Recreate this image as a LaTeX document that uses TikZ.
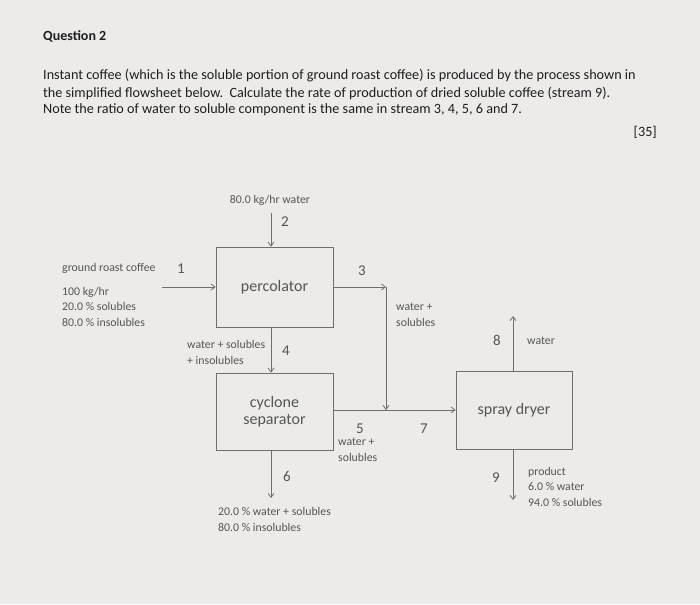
\documentclass[tikz,border=0pt]{standalone}
\usepackage{fontspec}
\setmainfont{Carlito}
\usetikzlibrary{arrows.meta}
\definecolor{bg}{HTML}{ECEBE9}
\definecolor{ink}{HTML}{1E1E1E}
\definecolor{dg}{HTML}{555555}
\definecolor{ln}{HTML}{6E6E6E}
\tikzset{
  unit/.style={draw=ln, line width=0.8pt, minimum width=117pt, minimum height=80pt, inner sep=0pt, text=dg, font=\fontsize{16}{17}\selectfont, align=center},
  arr/.style={draw=ln, line width=0.8pt, -{Straight Barb[length=4pt,width=6pt]}},
  lbl/.style={text=dg, font=\fontsize{11.8}{15.5}\selectfont, inner sep=0pt, align=left},
  num/.style={text=dg, font=\fontsize{15}{17}\selectfont, inner sep=0pt},
  para/.style={text=ink, font=\fontsize{14.2}{17}\selectfont, inner sep=0pt, align=left, anchor=base west}
}
\begin{document}
\begin{tikzpicture}[x=1pt,y=-1pt]
\fill[bg] (0,0) rectangle (700,604);
\useasboundingbox (0,0) rectangle (700,604);
% header text
\node[para, font=\bfseries\fontsize{14}{17}\selectfont] (q) at (43,41) {Question 2};
\node[para] (p) at (43,114) {Instant coffee (which is the soluble portion of ground roast coffee) is produced by the process shown in\\the simplified flowsheet below.\ \ Calculate the rate of production of dried soluble coffee (stream 9).\\Note the ratio of water to soluble component is the same in stream 3, 4, 5, 6 and 7.};
\node[para, anchor=base east] (mk) at (657,136) {[35]};
% units
\node[unit] (perc) at (274.5,287) {percolator};
\node[unit, minimum height=77pt] (cyc) at (274.5,411.5) {cyclone\\separator};
\node[unit, minimum width=116pt, minimum height=78pt] (spray) at (514,410) {spray dryer};
% coordinates
\coordinate (s1) at (162,287);
\coordinate (s2) at (271,213);
\coordinate (c3) at (386,287);
\coordinate (j) at (386,410);
\coordinate (e6) at (271,498);
\coordinate (e8) at (513,316);
\coordinate (e9) at (513,500);
% streams
\draw[arr] (s1) -- (perc.west);
\draw[arr] (s2) -- (s2 |- perc.north);
\draw[arr] (perc.east) -- (c3);
\draw[arr] (c3) -- (j);
\draw[arr] (s2 |- perc.south) -- (s2 |- cyc.north);
\draw[arr] (cyc.east |- j) -- (spray.west |- j);
\draw[arr] (s2 |- cyc.south) -- (e6);
\draw[arr] (e8 |- spray.north) -- (e8);
\draw[arr] (e9 |- spray.south) -- (e9);
% labels
\node[lbl, anchor=base] (l2) at (270,203) {80.0 kg/hr water};
\node[num, anchor=base] (n2) at (285,226) {2};
\node[lbl, anchor=base west] (l1a) at (62,271) {ground roast coffee};
\node[lbl, anchor=base west] (l1b) at (62,326) {100 kg/hr\\20.0 \% solubles\\80.0 \% insolubles};
\node[num, anchor=base] (n1) at (181,273) {1};
\node[num, anchor=base] (n3) at (362,275) {3};
\node[lbl, anchor=base west] (l3) at (396,326) {water +\\solubles};
\node[lbl, anchor=base west] (l4) at (187,364) {water + solubles\\+ insolubles};
\node[num, anchor=base] (n4) at (286,355) {4};
\node[num, anchor=base] (n5) at (360,433) {5};
\node[lbl, anchor=base west] (l5) at (338,461) {water +\\solubles};
\node[num, anchor=base] (n7) at (424,433) {7};
\node[num, anchor=base] (n8) at (497,345) {8};
\node[lbl, anchor=base west] (l8) at (527,344) {water};
\node[num, anchor=base] (n6) at (287,481) {6};
\node[lbl, anchor=base west] (l6) at (218,531) {20.0 \% water + solubles\\80.0 \% insolubles};
\node[num, anchor=base] (n9) at (496,482) {9};
\node[lbl, anchor=base west] (l9) at (528,506) {product\\6.0 \% water\\94.0 \% solubles};
\end{tikzpicture}
\end{document}
